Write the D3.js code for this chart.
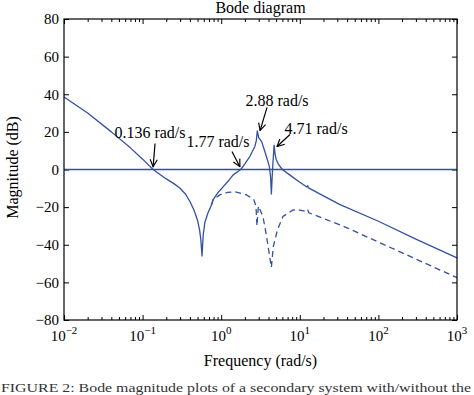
<!DOCTYPE html>
<html><head><meta charset="utf-8">
<script src="https://cdn.jsdelivr.net/npm/d3@7"></script>
<style>
html,body{margin:0;padding:0;background:#fff;}
svg{display:block;font-family:"Liberation Serif","DejaVu Serif",serif;}
</style></head>
<body><svg id="c" width="474" height="395"></svg>
<script>
// ---- data ----
const solidFreq = [0.01,0.02,0.04,0.07,0.1,0.136,0.2,0.25,0.3,0.35,0.4,0.45,0.5,0.53,0.55,0.57,0.59,0.62,0.68,0.75,0.79,0.9,1.07,1.28,1.41,1.77,2.0,2.32,2.69,2.8,2.88,3.0,3.27,3.77,4.1,4.25,4.35,4.5,4.71,4.85,5.0,5.3,6.0,7.5,10,12.3,12.6,12.9,20,32,100,300,1000];
const solidDb   = [38.5,30,20,11.5,5.5,0,-5,-7.5,-10,-13,-17,-21.5,-27,-32,-37,-46,-35,-28,-23,-19,-16,-12.5,-9,-5.3,-3,0,3,7,12.4,15.5,20.5,17,14.8,6.8,1.5,-4,-13,0,13,8,5.5,3,0,-3,-6.8,-9.3,-8.6,-9.8,-14,-18.5,-27.5,-37,-47];
const dashFreq  = [0.75,0.79,0.96,1.2,1.5,2.1,2.6,2.77,2.85,2.97,3.4,3.78,4.2,4.35,4.6,5.2,6.1,8.2,10,12.5,12.7,13,20,40,100,300,1000];
const dashDb    = [-19,-16,-13.5,-12.2,-11.8,-13.5,-16,-19.5,-30,-19.5,-25,-35.6,-48,-52,-41,-32,-25,-21.5,-21.6,-22.5,-21.8,-23,-26,-31,-38.6,-47.6,-57.5];
const zeroLineDb = [0];
const yTicks = [-80,-60,-40,-20,0,20,40,60,80];
const xDecades = [-2,-1,0,1,2,3];
const annoText   = ["0.136 rad/s","1.77 rad/s","2.88 rad/s","4.71 rad/s"];
const annoTextF  = [0.124,0.91,5.13,16.1];
const annoTextDb = [16.5,12,33.5,19];
const arrowTailF  = [0.144,1.37,3.83,7.5];
const arrowTailDb = [13.8,9.6,33,18.6];
const arrowTipF   = [0.136,1.73,3.12,5.13];
const arrowTipDb  = [1.5,1.5,20.7,12.2];
const titleText = "Bode diagram";
const xLabel = "Frequency (rad/s)";
const yLabel = "Magnitude (dB)";
const caption = "FIGURE 2: Bode magnitude plots of a secondary system with/without the";

// ---- layout ----
const L=64,R=457,T=19,B=320;
const blue="#3450a3";
const svg=d3.select("#c");
const x=d3.scaleLog().domain([1e-2,1e3]).range([L,R]);
const y=d3.scaleLinear().domain([-80,80]).range([B,T]);

const minor=[];
for(let d=-2;d<3;d++) for(let k=2;k<=9;k++) minor.push(k*Math.pow(10,d));
const majors=xDecades.map(d=>Math.pow(10,d));

function axisStyle(g){g.select(".domain").remove();g.selectAll("line").attr("stroke","#000").attr("stroke-width",1);g.selectAll("text").remove();}
svg.append("g").attr("transform",`translate(0,${B})`).call(d3.axisBottom(x).tickValues(majors).tickSize(-5).tickFormat("")).call(axisStyle);
svg.append("g").attr("transform",`translate(0,${B})`).call(d3.axisBottom(x).tickValues(minor).tickSize(-3).tickFormat("")).call(axisStyle);
svg.append("g").attr("transform",`translate(0,${T})`).call(d3.axisTop(x).tickValues(majors).tickSize(-5).tickFormat("")).call(axisStyle);
svg.append("g").attr("transform",`translate(0,${T})`).call(d3.axisTop(x).tickValues(minor).tickSize(-3).tickFormat("")).call(axisStyle);
svg.append("g").attr("transform",`translate(${L},0)`).call(d3.axisLeft(y).tickValues(yTicks).tickSize(-5).tickFormat("")).call(axisStyle);
svg.append("g").attr("transform",`translate(${R},0)`).call(d3.axisRight(y).tickValues(yTicks).tickSize(-5).tickFormat("")).call(axisStyle);

// lines
const line=d3.line().x(d=>x(d[0])).y(d=>y(d[1]));
svg.append("line").data(zeroLineDb).attr("x1",L).attr("x2",R).attr("y1",d=>y(d)).attr("y2",d=>y(d)).attr("stroke",blue).attr("stroke-width",1.3);
svg.append("path").attr("d",line(dashFreq.map((f,i)=>[f,dashDb[i]]))).attr("fill","none").attr("stroke",blue).attr("stroke-width",1.3).attr("stroke-dasharray","6,4");
svg.append("path").attr("d",line(solidFreq.map((f,i)=>[f,solidDb[i]]))).attr("fill","none").attr("stroke",blue).attr("stroke-width",1.3).attr("stroke-linejoin","round");

// frame
svg.append("rect").attr("x",L).attr("y",T).attr("width",R-L).attr("height",B-T).attr("fill","none").attr("stroke","#000").attr("stroke-width",1.2);

// tick labels
svg.append("g").selectAll("text").data(yTicks).join("text")
 .attr("x",L-5).attr("y",d=>y(d)).attr("dy","0.35em").attr("text-anchor","end").attr("font-size",15)
 .text(d=>d<0?"\u2212"+Math.abs(d):d);
const xl=svg.append("g").selectAll("text").data(xDecades).join("text")
 .attr("x",d=>x(Math.pow(10,d))).attr("y",B+21).attr("text-anchor","middle").attr("font-size",15);
xl.append("tspan").text("10");
xl.append("tspan").attr("dy",-7).attr("font-size",11).text(d=>d<0?"\u2212"+Math.abs(d):d);

// titles
svg.append("text").attr("x",(L+R)/2).attr("y",13).attr("text-anchor","middle").attr("font-size",16).text(titleText);
svg.append("text").attr("x",(L+R)/2).attr("y",366).attr("text-anchor","middle").attr("font-size",16).text(xLabel);
svg.append("text").attr("transform",`translate(18,${(T+B)/2-2}) rotate(-90)`).attr("text-anchor","middle").attr("font-size",16).text(yLabel);
svg.append("text").attr("x",1).attr("y",392).attr("font-size",12).attr("fill","#333")
 .attr("textLength",470).attr("lengthAdjust","spacingAndGlyphs").text(caption);

// annotations
const defs=svg.append("defs");
defs.append("marker").attr("id","ah").attr("viewBox","0 0 10 10").attr("refX",9).attr("refY",5)
 .attr("markerWidth",9).attr("markerHeight",9).attr("markerUnits","userSpaceOnUse").attr("orient","auto")
 .append("path").attr("d","M1,1 L9,5 L1,9").attr("fill","none").attr("stroke","#000").attr("stroke-width",1.3);
svg.append("g").selectAll("line").data(annoText).join("line")
 .attr("x1",(d,i)=>x(arrowTailF[i])).attr("y1",(d,i)=>y(arrowTailDb[i]))
 .attr("x2",(d,i)=>x(arrowTipF[i])).attr("y2",(d,i)=>y(arrowTipDb[i]))
 .attr("stroke","#000").attr("stroke-width",1.2).attr("marker-end","url(#ah)");
svg.append("g").selectAll("text").data(annoText).join("text")
 .attr("x",(d,i)=>x(annoTextF[i])).attr("y",(d,i)=>y(annoTextDb[i])).attr("text-anchor","middle").attr("font-size",16)
 .text(d=>d);
</script></body></html>
